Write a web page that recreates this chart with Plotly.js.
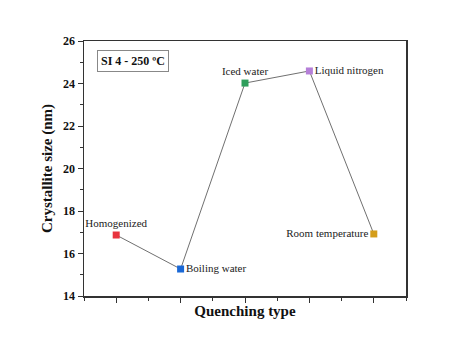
<!DOCTYPE html>
<html>
<head>
<meta charset="utf-8">
<script src="https://cdn.plot.ly/plotly-3.0.1.min.js"></script>
<style>html,body{margin:0;padding:0;background:#fff;}#chart{width:474px;height:356px;}</style>
</head>
<body>
<div id="chart"></div>
<script>
var categories = ["Homogenized", "Boiling water", "Iced water", "Liquid nitrogen", "Room temperature"];
var sizes = [16.87, 15.27, 24.02, 24.59, 16.92];
var colors = ["#e8343e", "#1a68d6", "#2e9e5b", "#b57fd8", "#d49d1a"];
var labelPositions = ["top center", "middle right", "top center", "middle right", "middle left"];
var yTicks = [14, 16, 18, 20, 22, 24, 26];
var yMinorTicks = [15, 17, 19, 21, 23, 25];

var xIdx = categories.map(function(_, i){ return i; });
var xMinor = [-0.5, 0.5, 1.5, 2.5, 3.5, 4.5];

var font = "Liberation Serif";

var traces = [
  {
    x: xIdx, y: sizes, mode: "lines", type: "scatter",
    line: {color: "#707070", width: 1}, hoverinfo: "skip", showlegend: false
  },
  {
    x: xIdx, y: sizes, mode: "markers+text", type: "scatter",
    text: categories, textposition: labelPositions, cliponaxis: false,
    textfont: {family: font, size: 11, color: "#222"},
    marker: {symbol: "square", size: 7, color: colors},
    showlegend: false
  }
];

var layout = {
  width: 474, height: 356,
  margin: {l: 84, r: 68, t: 41, b: 60},
  paper_bgcolor: "#fff", plot_bgcolor: "#fff",
  font: {family: font, color: "#222"},
  xaxis: {
    range: [-0.5, 4.5],
    tickmode: "array", tickvals: xIdx, showticklabels: false,
    ticks: "outside", ticklen: 5, tickwidth: 1, tickcolor: "#333",
    minor: {tickmode: "array", tickvals: xMinor, ticks: "outside", ticklen: 3, tickcolor: "#333"},
    showgrid: false, zeroline: false,
    showline: true, linecolor: "#333", linewidth: 1.5, mirror: true,
    title: {text: "<b>Quenching type</b>", font: {family: font, size: 15, color: "#111"}, standoff: 4}
  },
  yaxis: {
    range: [14, 26],
    tickvals: yTicks, ticktext: yTicks.map(function(v){ return "<b>" + v + "</b>"; }),
    ticks: "outside", ticklen: 5, tickwidth: 1, tickcolor: "#333",
    minor: {tickmode: "array", tickvals: yMinorTicks, ticks: "outside", ticklen: 3, tickcolor: "#333"},
    tickfont: {family: font, size: 12, color: "#111"},
    showgrid: false, zeroline: false,
    showline: true, linecolor: "#333", linewidth: 1.5, mirror: true,
    title: {text: "<b>Crystallite size (nm)</b>", font: {family: font, size: 15, color: "#111"}, standoff: 7}
  },
  annotations: [{
    xref: "paper", yref: "paper", x: 0.04, y: 0.965, xanchor: "left", yanchor: "top",
    text: "<b>SI 4 - 250 ºC</b>", showarrow: false,
    font: {family: font, size: 12, color: "#111"},
    bordercolor: "#888", borderwidth: 1, borderpad: 3, bgcolor: "#fff"
  }]
};

Plotly.newPlot("chart", traces, layout, {displayModeBar: false, staticPlot: true});
</script>
</body>
</html>
